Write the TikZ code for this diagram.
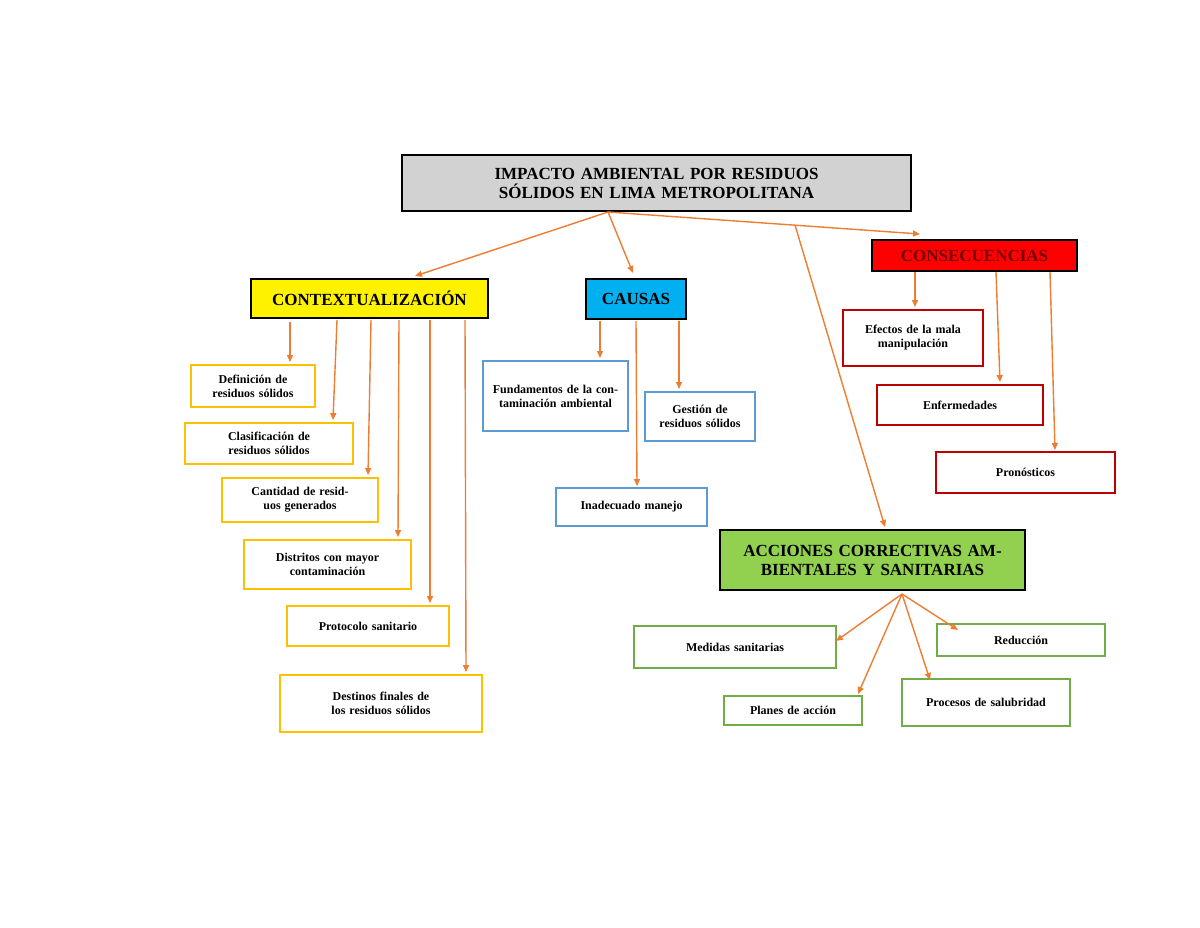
\documentclass[tikz,border=0pt]{standalone}
\usepackage{fontspec}
\setmainfont{Liberation Serif}
\usetikzlibrary{arrows.meta}
\definecolor{org}{RGB}{237,125,49}
\definecolor{gold}{RGB}{255,192,0}
\definecolor{bl}{RGB}{91,155,213}
\definecolor{rd}{RGB}{192,0,0}
\definecolor{gr}{RGB}{112,173,71}
\definecolor{cy}{RGB}{0,176,240}
\definecolor{lg}{RGB}{146,208,80}
\newcommand\bx[7]{\node[#1,minimum width={(#5-#3)*0.5pt},minimum height={(#6-#4)*0.5pt},text width={(#5-#3)*0.5pt-8pt}] (#2) at ({(#3+#5)/2},{(#4+#6)/2}) {#7};}
\begin{document}
\begin{tikzpicture}[x=0.5pt,y=-0.5pt,
 base/.style={rectangle,inner sep=1pt,align=center,font=\bfseries\fontsize{6}{7}\selectfont},
 main/.style={base,draw=black,line width=1.2pt,font=\bfseries\fontsize{8.5}{9.5}\selectfont},
 ybox/.style={base,draw=gold,line width=1pt},
 bbox/.style={base,draw=bl,line width=1pt},
 rbox/.style={base,draw=rd,line width=1pt},
 gbox/.style={base,draw=gr,line width=1pt},
 arr/.style={draw=org,line width=0.7pt,-{Triangle[length=3.5pt,width=3pt]}}]
\useasboundingbox (0,0) rectangle (1200,927);
\bx{main,fill=gray!35}{title}{402}{155}{911}{211}{IMPACTO AMBIENTAL POR RESIDUOS SÓLIDOS EN LIMA METROPOLITANA}
\bx{main,fill=yellow}{ctx}{251}{279}{488}{318}{CONTEXTUALIZACIÓN}
\bx{main,fill=cy}{cau}{586}{279}{686}{319}{CAUSAS}
\bx{main,fill=red,text=rd!60!black}{con}{872}{240}{1077}{271}{CONSECUENCIAS}
\bx{main,fill=lg}{acc}{720}{530}{1025}{590}{ACCIONES CORRECTIVAS AMBIENTALES Y SANITARIAS}
\bx{ybox}{def}{191}{365}{315}{407}{Definición de residuos sólidos}
\bx{ybox}{cla}{185}{423}{353}{464}{Clasificación de residuos sólidos}
\bx{ybox}{can}{222}{478}{378}{522}{Cantidad de residuos generados}
\bx{ybox}{dis}{244}{540}{411}{589}{Distritos con mayor contaminación}
\bx{ybox}{pro}{287}{606}{449}{646}{Protocolo sanitario}
\bx{ybox}{des}{280}{675}{482}{732}{Destinos finales de los residuos sólidos}
\bx{bbox}{fun}{483}{361}{628}{431}{Fundamentos de la contaminación ambiental}
\bx{bbox}{ges}{645}{392}{755}{441}{Gestión de residuos sólidos}
\bx{bbox}{ina}{556}{488}{707}{526}{Inadecuado manejo}
\bx{rbox}{efe}{843}{310}{983}{366}{Efectos de la mala manipulación}
\bx{rbox}{enf}{877}{385}{1043}{425}{Enfermedades}
\bx{rbox}{prn}{936}{452}{1115}{493}{Pronósticos}
\bx{gbox}{med}{634}{626}{836}{668}{Medidas sanitarias}
\bx{gbox}{red}{937}{624}{1105}{656}{Reducción}
\bx{gbox}{pla}{724}{696}{862}{725}{Planes de acción}
\bx{gbox}{prc}{902}{679}{1070}{726}{Procesos de salubridad}
\coordinate (t0) at (608,212);
\draw[arr] (t0) -- (415,276);
\draw[arr] (t0) -- (633,273);
\draw[arr] (t0) -- (920,234);
\draw[arr] (795,225) -- (885,527);
\draw[arr] (290,322) -- (290,362);
\draw[arr] (337,320) -- (333,420);
\draw[arr] (371,320) -- (368,475);
\draw[arr] (399,320) -- (398,537);
\draw[arr] (430,320) -- (430,603);
\draw[arr] (465,320) -- (466,672);
\draw[arr] (600,321) -- (600,358);
\draw[arr] (636,321) -- (637,486);
\draw[arr] (679,321) -- (679,389);
\draw[arr] (915,272) -- (915,307);
\draw[arr] (996,272) -- (1000,382);
\draw[arr] (1050,272) -- (1055,450);
\coordinate (a0) at (902,594);
\draw[arr] (a0) -- (836,641);
\draw[arr] (a0) -- (958,630);
\draw[arr] (a0) -- (858,694);
\draw[arr] (a0) -- (930,680);
\end{tikzpicture}
\end{document}
